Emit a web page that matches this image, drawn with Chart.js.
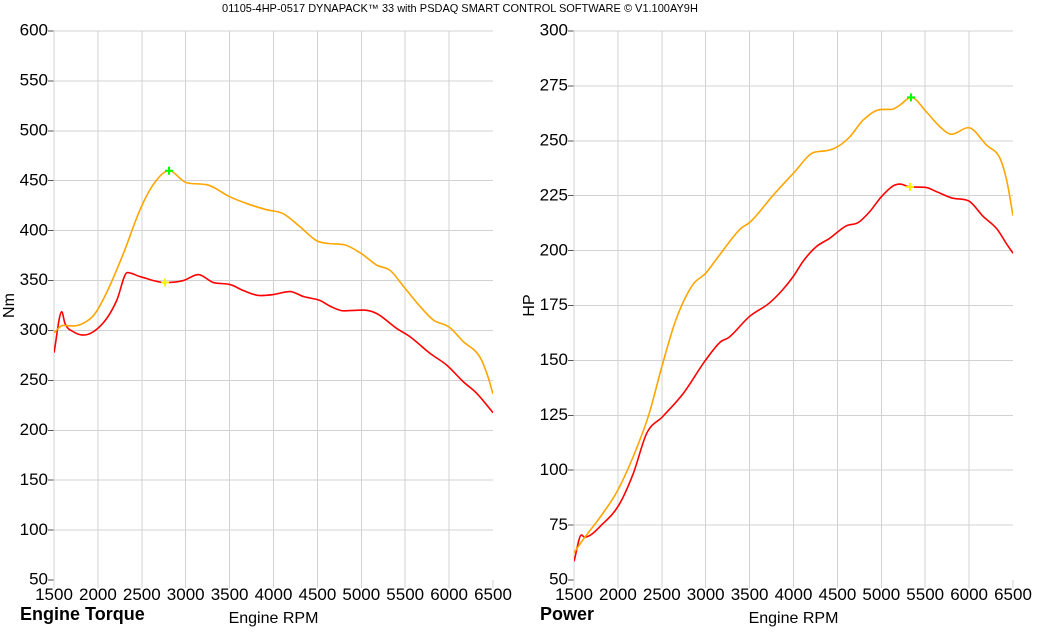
<!DOCTYPE html>
<html>
<head>
<meta charset="utf-8">
<script src="https://cdn.jsdelivr.net/npm/chart.js@4.4.0/dist/chart.umd.min.js"></script>
<style>
  html, body { margin: 0; padding: 0; background: #fff; }
  #page { position: relative; width: 1039px; height: 633px; overflow: hidden; font-family: "Liberation Sans", Arial, sans-serif; }
  .box { position: absolute; top: 0; height: 633px; }
  #title { position: absolute; top: 2px; left: 0; width: 920px; text-align: center; font-size: 11px; color: #000; white-space: nowrap; }
  .sub { position: absolute; top: 604px; font-weight: bold; font-size: 18px; color: #000; }
</style>
</head>
<body>
<div id="page">
  <div class="box" style="left:0;width:520px"><canvas id="torque"></canvas></div>
  <div class="box" style="left:520px;width:519px"><canvas id="power"></canvas></div>
  <div id="title">01105-4HP-0517 DYNAPACK™ 33 with PSDAQ SMART CONTROL SOFTWARE © V1.100AY9H</div>
  <div class="sub" style="left:20px">Engine Torque</div>
  <div class="sub" style="left:540px">Power</div>
</div>
<script>
// ---- Torque (Nm) ----
const torqueOrangeRpm = [1500,1600,1720,1830,1960,2100,2290,2480,2630,2810,3010,3240,3500,3700,3920,4110,4300,4490,4640,4800,5000,5175,5330,5500,5670,5820,6000,6160,6350,6430,6500];
const torqueOrangeNm  = [297.7,305,304.5,307,316,338,377,421,446,460,448,446,434,427,421,417,404,390,387,386,377,365.5,360,342,324,310.5,303.5,289,273.5,257,236.5];
const torqueRedRpm = [1500,1588,1625,1720,1834,1948,2100,2214,2335,2480,2765,2973,3144,3315,3505,3656,3846,3998,4188,4340,4530,4643,4795,5023,5175,5403,5555,5783,5973,6162,6314,6500];
const torqueRedNm  = [277.7,318.7,307,298.7,295.4,298.7,312,330,358,354,348,350,356,348,346,340,335,336,339,334,330,324.4,319.7,320.4,317,302,293.7,277,265.3,248.6,237,217.6];
const torquePeakOrange = {rpm: 2810, value: 460};
const torqueMarkRed = {rpm: 2765, value: 348};

// ---- Power (HP) ----
const powerOrangeRpm = [1500,1600,1830,2000,2205,2357,2500,2660,2850,3000,3115,3390,3512,3770,4005,4225,4377,4502,4643,4795,5004,5118,5213,5338,5517,5668,5801,5991,6200,6352,6428,6500];
const powerOrangeHp  = [62.4,68.2,80.4,91,109.2,125.9,147.1,168.4,184.3,189.7,195.7,209.7,213.2,225.3,235.5,244.6,245.5,247.3,251.9,259.5,264.3,264.3,266.3,269.8,263,256.4,253,256,248,242,232,216];
const powerRedRpm = [1500,1585,1620,1833,2009,2176,2328,2510,2745,3000,3170,3265,3496,3721,3873,3995,4120,4260,4412,4602,4734,4867,5000,5132,5213,5327,5498,5631,5820,5991,6162,6314,6428,6500];
const powerRedHp  = [58.5,70.5,69.5,75.8,84,98.6,116.8,124.4,135,150.2,158.5,160.5,169.9,176,182,188.1,195.7,201.8,205.6,211.3,212.7,217.7,224.5,229.4,230.3,229,228.8,226.8,223.8,222.7,215.5,210,203,198.8];
const powerPeakOrange = {rpm: 5338, value: 269.8};
const powerMarkRed = {rpm: 5327, value: 229};

const xTickValues = [1500,2000,2500,3000,3500,4000,4500,5000,5500,6000,6500];

const ORANGE = '#FFA500', RED = '#FF0000', GREEN = '#00FF00', YELLOW = '#FFEE00';
const GRID = '#d2d2d2';
const TICKFONT = {family: '"Liberation Sans", Arial, sans-serif', size: 17};

function pts(xs, ys) { return xs.map((x, i) => ({x, y: ys[i]})); }

function makeChart(id, oRpm, oVal, rRpm, rVal, peak, mark, yMin, yMax, yStep, yTitle, padRight) {
  const lineDs = (data, color) => ({
    type: 'line', data, borderColor: color, borderWidth: 1.6, pointRadius: 0,
    cubicInterpolationMode: 'monotone', fill: false, order: 2
  });
  const markDs = (p, color) => ({
    type: 'scatter', data: [{x: p.rpm, y: p.value}], borderColor: color, backgroundColor: color,
    pointStyle: 'cross', pointRadius: 4, borderWidth: 2, order: 1
  });
  return new Chart(document.getElementById(id), {
    type: 'line',
    data: {
      datasets: [
        lineDs(pts(oRpm, oVal), ORANGE),
        lineDs(pts(rRpm, rVal), RED),
        markDs(peak, GREEN),
        markDs(mark, YELLOW)
      ]
    },
    options: {
      responsive: true,
      maintainAspectRatio: false,
      animation: false,
      devicePixelRatio: 2,
      layout: {padding: {left: 0, right: padRight, top: 31, bottom: 0}},
      plugins: {legend: {display: false}, tooltip: {enabled: false}, title: {display: false}},
      scales: {
        x: {
          type: 'linear', min: 1500, max: 6500,
          afterBuildTicks: s => { s.ticks = xTickValues.map(v => ({value: v})); },
          afterFit: s => { s.height = 53; },
          ticks: {font: TICKFONT, color: '#000', padding: -3, maxRotation: 0, autoSkip: false,
                  callback: v => String(v)},
          grid: {
            color: c => (c.tick && c.tick.value === 6500) ? 'rgba(0,0,0,0)' : GRID,
            tickColor: GRID, tickLength: 8, lineWidth: 1
          },
          border: {display: false},
          title: {display: true, text: 'Engine RPM', color: '#000',
                  font: {family: '"Liberation Sans", Arial, sans-serif', size: 16},
                  padding: {top: 0, bottom: 5}}
        },
        y: {
          type: 'linear', min: yMin, max: yMax,
          ticks: {stepSize: yStep, font: TICKFONT, color: '#000', padding: 0,
                  callback: v => String(v)},
          afterFit: s => { s.width = 54; },
          grid: {
            color: c => (c.tick && c.tick.value === yMin) ? 'rgba(0,0,0,0)' : GRID,
            tickColor: '#555', tickLength: 6, lineWidth: 1
          },
          border: {display: true, color: GRID},
          title: {display: true, text: yTitle, color: '#000',
                  font: {family: '"Liberation Sans", Arial, sans-serif', size: 16},
                  padding: {top: 0, bottom: 0}}
        }
      }
    }
  });
}

makeChart('torque', torqueOrangeRpm, torqueOrangeNm, torqueRedRpm, torqueRedNm,
          torquePeakOrange, torqueMarkRed, 50, 600, 50, 'Nm', 27);
makeChart('power', powerOrangeRpm, powerOrangeHp, powerRedRpm, powerRedHp,
          powerPeakOrange, powerMarkRed, 50, 300, 25, 'HP', 26);
</script>
</body>
</html>
